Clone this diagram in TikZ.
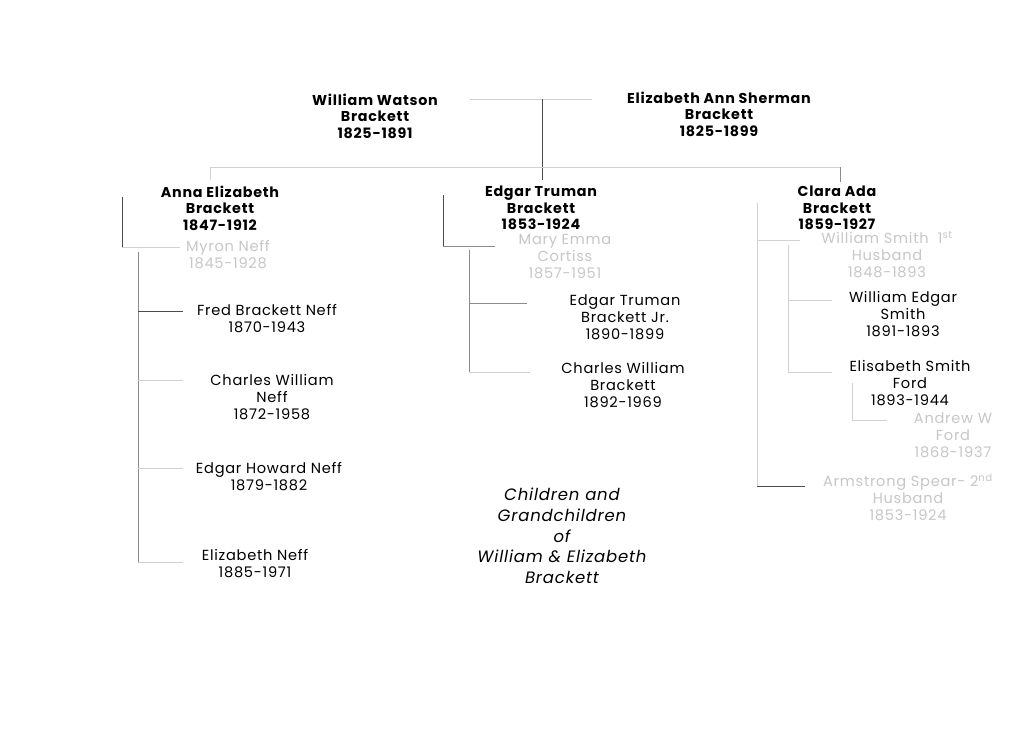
\documentclass[tikz,border=0pt]{standalone}
\usepackage{fontspec}
\setmainfont{Poppins}[LetterSpace=5]
\definecolor{lighttext}{gray}{0.78}
\begin{document}
\begin{tikzpicture}[x=1pt,y=-1pt,
  person/.style={align=center,font=\fontsize{14.6}{17}\selectfont,inner sep=1pt},
  main/.style={person,font=\fontsize{14.3}{16.5}\selectfont\bfseries},
  spouse/.style={person,text=lighttext},
  darkline/.style={draw=black!70,line width=0.8pt},
  midline/.style={draw=black!45,line width=0.7pt},
  faintline/.style={draw=black!18,line width=0.7pt}]
\useasboundingbox[fill=white] (0,0) rectangle (1024,745);

% top generation
\node[main] (ww) at (375,116) {William Watson\\Brackett\\1825-1891};
\node[main] (es) at (719,114) {Elizabeth Ann Sherman\\Brackett\\1825-1899};

% children
\node[main] (anna) at (220,208) {Anna Elizabeth\\Brackett\\1847-1912};
\node[main] (edgar) at (541,208) {Edgar Truman\\Brackett\\1853-1924};
\node[main] (clara) at (837,208) {Clara Ada\\Brackett\\1859-1927};

% Anna's family
\node[spouse] (myron) at (228,255) {Myron Neff\\1845-1928};
\node[person] (fred) at (267,318.5) {Fred Brackett Neff\\1870-1943};
\node[person] (charlesn) at (272,397) {Charles William\\Neff\\1872-1958};
\node[person] (edgarh) at (269,476.5) {Edgar Howard Neff\\1879-1882};
\node[person] (elizn) at (255,564) {Elizabeth Neff\\1885-1971};

% Edgar's family
\node[spouse] (mary) at (565,257) {Mary Emma\\Cortiss\\1857-1951};
\node[person] (edgarjr) at (625,317) {Edgar Truman\\Brackett Jr.\\1890-1899};
\node[person] (charlesb) at (623,385) {Charles William\\Brackett\\1892-1969};

% Clara's family
\node[spouse] (wsmith) at (887,255) {William Smith\ \ 1\textsuperscript{st}\\Husband\\1848-1893};
\node[person] (wedgar) at (903,314) {William Edgar\\Smith\\1891-1893};
\node[person] (elisab) at (910,383) {Elisabeth Smith\\Ford\\1893-1944};
\node[spouse] (andrew) at (953,435) {Andrew W\\Ford\\1868-1937};
\node[spouse] (armstrong) at (908,497) {Armstrong Spear- 2\textsuperscript{nd}\\Husband\\1853-1924};

% title
\node[align=center,font=\fontsize{16.5}{20.7}\selectfont\itshape] (title) at (562,536)
  {Children and\\Grandchildren\\of\\William \& Elizabeth\\Brackett};

% junction coordinates
\coordinate (m1) at (470,99);
\coordinate (m2) at (592,99);
\coordinate (mj) at (542,99);
\coordinate (s1) at (210,167);
\coordinate (s2) at (840,167);
\coordinate (sa) at (210,180);
\coordinate (sc) at (840,182);
\coordinate (se) at (542,180);

% marriage and sibling lines
\draw[faintline] (m1) -- (m2);
\draw[darkline] (mj) -- (se);
\draw[faintline] (s1) -- (s2);
\draw[faintline] (s1) -- (sa);
\draw[midline] (s2) -- (sc);

% Anna
\coordinate (a1) at (122,197);
\coordinate (a2) at (122,247);
\coordinate (a3) at (180,247);
\draw[darkline] (a1) -- (a2);
\draw[faintline] (a2) -- (a3);
\coordinate (at1) at (138,252);
\coordinate (at2) at (138,563);
\draw[midline] (at1) -- (at2);
\draw[darkline] (138,311) -- (183,311);
\draw[faintline] (138,380) -- (183,380);
\draw[faintline] (138,468) -- (183,468);
\draw[faintline] (138,562) -- (183,562);

% Edgar
\coordinate (e1) at (443,195);
\coordinate (e2) at (443,246);
\coordinate (e3) at (495,246);
\draw[darkline] (e1) -- (e2);
\draw[midline] (e2) -- (e3);
\coordinate (et1) at (469,250);
\coordinate (et2) at (469,373);
\draw[midline] (et1) -- (et2);
\draw[midline] (469,303) -- (527,303);
\draw[faintline] (469,372) -- (530,372);

% Clara
\coordinate (c1) at (757,203);
\coordinate (c2) at (757,486);
\draw[faintline] (c1) -- (c2);
\draw[faintline] (757,240) -- (800,240);
\draw[darkline] (757,486) -- (805,486);
\coordinate (ct1) at (788,245);
\coordinate (ct2) at (788,372);
\draw[faintline] (ct1) -- (ct2);
\draw[faintline] (788,300) -- (832,300);
\draw[faintline] (788,372) -- (832,372);
\coordinate (f1) at (852,383);
\coordinate (f2) at (852,420);
\draw[faintline] (f1) -- (f2) -- (887,420);
\end{tikzpicture}
\end{document}
